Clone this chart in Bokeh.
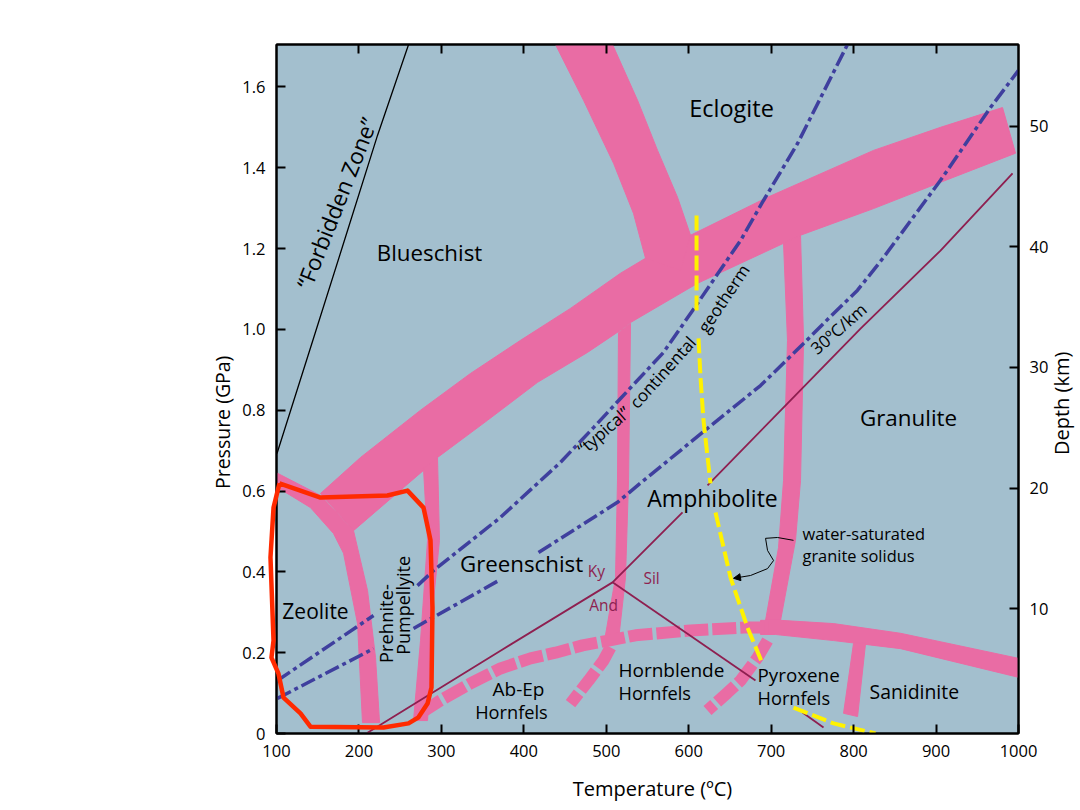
from bokeh.core.properties import value
from bokeh.embed import file_html
from bokeh.models import Arrow, FixedTicker, Label, LinearAxis, NormalHead, Range1d
from bokeh.plotting import figure
from bokeh.resources import INLINE

temp_ticks = [100, 200, 300, 400, 500, 600, 700, 800, 900, 1000]
pressure_ticks = [0, 0.2, 0.4, 0.6, 0.8, 1.0, 1.2, 1.4, 1.6]
depth_ticks = [10, 20, 30, 40, 50]

# facies boundaries, temperature (C) and pressure (GPa)
main_t = [153.4, 201.9, 274.7, 335.3, 396, 456.6, 517.3, 547.6, 602.2, 695.6, 824.2, 905.4, 980.6, 996.4,
          905.4, 824.2, 735.6, 715, 610.7, 529.4, 517.3, 477.2, 416.6, 355.9, 295.3, 278.3, 193.4]
main_p = [0.594, 0.683, 0.800, 0.891, 0.973, 1.052, 1.139, 1.176, 1.233, 1.327, 1.443, 1.500, 1.549, 1.436,
          1.364, 1.299, 1.233, 1.213, 1.114, 1.017, 0.998, 0.943, 0.869, 0.775, 0.683, 0.651, 0.502]

eclogite_t = [438.4, 472.4, 508.8, 533, 547.6, 590, 602.2, 586.4, 562.2, 537.9, 507.6]
eclogite_p = [1.705, 1.567, 1.411, 1.287, 1.176, 1.146, 1.233, 1.327, 1.443, 1.567, 1.705]

zeolite_t = [101.2, 153.4, 193.4, 210.4, 220.1, 225, 204.3, 198.3, 181.3, 169.1, 141.2, 101.2]
zeolite_p = [0.644, 0.589, 0.502, 0.354, 0.188, 0.027, 0.027, 0.272, 0.446, 0.495, 0.559, 0.609]

prehnite_t = [278.3, 295.3, 297.7, 290.4, 283.2, 266.2, 274.7, 283.2]
prehnite_p = [0.656, 0.683, 0.478, 0.329, 0.032, 0.032, 0.230, 0.478]

amphibolite_t = [514.8, 529.4, 527, 523.3, 514.8, 499, 511.2, 513.6]
amphibolite_p = [0.992, 1.015, 0.625, 0.386, 0.230, 0.243, 0.386, 0.625]

granulite_t = [715, 735.6, 739.3, 735.6, 729.5, 711.4, 693.2, 708.9, 715, 719.8]
granulite_p = [1.213, 1.233, 0.973, 0.626, 0.478, 0.280, 0.280, 0.460, 0.626, 0.973]

hightemp_t = [687.1, 711.4, 775.7, 856.9, 1000, 1000, 856.9, 775.7, 705.3, 687.1]
hightemp_p = [0.280, 0.280, 0.272, 0.248, 0.186, 0.139, 0.210, 0.230, 0.245, 0.245]

sanidinite_t = [799.9, 814.5, 804.8, 787.8]
sanidinite_p = [0.223, 0.223, 0.042, 0.050]

# dashed hornfels boundaries
abep_t = [274.7, 298.9, 335.3, 371.7, 408.1, 438.4, 471.2, 502.7, 535.5, 602.2, 666.5, 699.2]
abep_p = [0.050, 0.082, 0.124, 0.161, 0.186, 0.200, 0.218, 0.230, 0.243, 0.255, 0.262, 0.262]
horn_left_t = [505.1, 496.7, 478.5, 456.6]
horn_left_p = [0.213, 0.181, 0.131, 0.074]
horn_right_t = [695.6, 683.5, 662.8, 647, 622.8]
horn_right_p = [0.230, 0.188, 0.131, 0.101, 0.057]

# geotherms, broken where the labels sit on them
geotherm_t = [[101.2, 217.7], [271, 290.4, 371.7, 444.5, 484.5, 517.3, 569.4, 605.8, 662.8, 690.7, 732, 792.6]]
geotherm_p = [[0.131, 0.292], [0.366, 0.403, 0.535, 0.671, 0.757, 0.829, 0.943, 1.050, 1.220, 1.319, 1.460, 1.705]]
km30_t = [[101.2, 217.7], [266.2, 371.7],
          [417.8, 513.6, 545.2, 622.8, 687.1, 739.3, 772, 804.8, 836.3, 905.4, 966, 1000]]
km30_p = [[0.087, 0.210], [0.260, 0.381],
          [0.448, 0.572, 0.626, 0.755, 0.861, 0.965, 1.032, 1.097, 1.178, 1.369, 1.549, 1.641]]

# aluminosilicate triple point lines
kyanite_t = [[210.4, 371.7, 507.6, 592.5], [622.8, 719.9, 808.4, 905.4, 992.8]]
kyanite_p = [[0.002, 0.205, 0.374, 0.547], [0.614, 0.817, 1.002, 1.195, 1.386]]
sil_t = [[507.6, 681], [738, 763.5]]
sil_p = [[0.374, 0.131], [0.052, 0.015]]

solidus_t = [[609.5, 609.5], [611.9, 614.3, 617.9, 626.4], [632.5, 650.7, 671.3, 689.5], [727.1, 775.7, 826.6]]
solidus_p = [[1.282, 1.040], [0.978, 0.881, 0.775, 0.619], [0.547, 0.386, 0.262, 0.173], [0.064, 0.025, 0.0]]

forbidden_t = [100.6, 144.9, 181.3, 222.5, 260.2]
forbidden_p = [0.693, 0.978, 1.213, 1.480, 1.705]

pointer_t = [727.1, 707.7, 693.2, 695.6, 702.9, 695.6, 675]
pointer_p = [0.478, 0.485, 0.483, 0.453, 0.428, 0.408, 0.391]
pointer_end = (654.3, 0.384)

# hand drawn red outline around the low grade facies
outline_t = [103.6, 153.4, 234.6, 258.9, 278.3, 286.8, 289.2, 288, 283.2, 272.2, 260.1, 229.8,
             141.2, 129.1, 108.5, 102.4, 93.9, 96.4, 92.7, 96.4, 103.6]
outline_p = [0.619, 0.584, 0.589, 0.601, 0.559, 0.478, 0.312, 0.114, 0.074, 0.040, 0.025, 0.015,
             0.017, 0.050, 0.089, 0.148, 0.188, 0.230, 0.436, 0.559, 0.619]

BG = "#A3BFCE"
PINK = "#E96CA4"
BLUE = "#3F3F9E"
WINE = "#8E1F50"
YELLOW = "#FFF200"
RED = "#FF2A00"
FONT = "Open Sans"

p = figure(frame_width=742, frame_height=689, x_range=Range1d(100, 1000), y_range=Range1d(0, 1.705),
           output_backend="svg", toolbar_location=None, min_border_left=276, min_border_right=58,
           min_border_top=44, min_border_bottom=69, background_fill_color=BG,
           x_axis_location="below", y_axis_location="left")
p.grid.visible = False
p.outline_line_color = "black"
p.outline_line_width = 2
p.extra_y_ranges = {"depth": Range1d(-0.37, 56.8)}


def style_axis(ax, ticks, labels):
    ax.ticker = FixedTicker(ticks=ticks)
    ax.major_label_overrides = labels
    ax.major_tick_in = 9
    ax.major_tick_out = 0
    ax.minor_tick_line_color = None
    ax.major_tick_line_color = "black"
    ax.major_tick_line_width = 2
    ax.axis_line_color = "black"
    ax.axis_line_width = 2
    ax.major_label_standoff = 11
    ax.major_label_text_font = FONT
    ax.major_label_text_font_size = "16.5px"
    ax.major_label_text_color = "black"


style_axis(p.xaxis[0], temp_ticks, {t: str(t) for t in temp_ticks})
style_axis(p.yaxis[0], pressure_ticks, {0: "0", **{v: f"{v:.1f}" for v in pressure_ticks[1:]}})

top_axis = LinearAxis()
style_axis(top_axis, temp_ticks[1:-1], {t: "" for t in temp_ticks})
p.add_layout(top_axis, "above")
depth_axis = LinearAxis(y_range_name="depth")
style_axis(depth_axis, depth_ticks, {d: str(d) for d in depth_ticks})
p.add_layout(depth_axis, "right")

for xs, ys in [(main_t, main_p), (eclogite_t, eclogite_p), (zeolite_t, zeolite_p),
               (prehnite_t, prehnite_p), (amphibolite_t, amphibolite_p),
               (granulite_t, granulite_p), (hightemp_t, hightemp_p), (sanidinite_t, sanidinite_p)]:
    p.patch(xs, ys, fill_color=PINK, line_color=PINK, line_width=1)

for xs, ys in [(abep_t, abep_p), (horn_left_t, horn_left_p), (horn_right_t, horn_right_p)]:
    p.line(xs, ys, line_color=PINK, line_width=12, line_dash=[24, 4])

p.line(forbidden_t, forbidden_p, line_color="black", line_width=1.3)
for xs, ys in zip(kyanite_t + sil_t, kyanite_p + sil_p):
    p.line(xs, ys, line_color=WINE, line_width=1.8)
for xs, ys in zip(geotherm_t + km30_t, geotherm_p + km30_p):
    p.line(xs, ys, line_color=BLUE, line_width=3.5, line_dash=[15, 4, 4, 4])
for xs, ys in zip(solidus_t, solidus_p):
    p.line(xs, ys, line_color=YELLOW, line_width=4, line_dash=[15, 5])

p.line(pointer_t, pointer_p, line_color="black", line_width=1)
p.add_layout(Arrow(end=NormalHead(size=7, fill_color="black", line_color="black"),
                   x_start=pointer_t[-1], y_start=pointer_p[-1],
                   x_end=pointer_end[0], y_end=pointer_end[1], line_color="black", line_width=1))

p.line(outline_t, outline_p, line_color=RED, line_width=4.5, line_join="round", level="overlay")


def add_text(x, y, text, size=22, angle=0, align="center", color="black"):
    p.add_layout(Label(x=x, y=y, text=text, text_font=FONT, text_font_size=f"{size}px",
                       text_color=color, text_align=align, text_baseline="middle",
                       angle=angle, angle_units="deg"))


def axis_title(x, y, text, size, angle=0):
    # outside the frame, so a glyph on the overlay level rather than a Label
    p.text([x], [y], [text], text_font=value(FONT), text_font_size=f"{size}px", text_color="black",
           text_align="center", text_baseline="middle", angle=angle, angle_units="deg",
           level="overlay")


add_text(651.9, 1.549, "Eclogite", 23.5)
add_text(285.6, 1.191, "Blueschist", 22.3)
add_text(866.6, 0.781, "Granulite", 22.4)
add_text(628.9, 0.583, "Amphibolite", 23)
add_text(397.2, 0.421, "Greenschist", 22.3)
add_text(147.3, 0.302, "Zeolite", 21)
add_text(232.2, 0.272, "Prehnite-", 18.4, 90)
add_text(254, 0.317, "Pumpellyite", 18, 90)
add_text(514.8, 0.156, "Hornblende", 19, align="left")
add_text(514.8, 0.099, "Hornfels", 18.2, align="left")
add_text(683.5, 0.144, "Pyroxene", 18.8, align="left")
add_text(683.5, 0.087, "Hornfels", 18.2, align="left")
add_text(819.3, 0.104, "Sanidinite", 19.4, align="left")
add_text(393.5, 0.109, "Ab-Ep", 19)
add_text(385, 0.052, "Hornfels", 18.2)
add_text(488, 0.403, "Ky", 15.5, color=WINE)
add_text(554.9, 0.384, "Sil", 15.5, color=WINE)
add_text(496.7, 0.317, "And", 15.5, color=WINE)
add_text(738, 0.495, "water-saturated", 16.4, align="left")
add_text(738, 0.441, "granite solidus", 16.4, align="left")
add_text(496.7, 0.750, "\u201ctypical\u201d", 17, 41)
add_text(568.2, 0.894, "continental", 17, 48)
add_text(642.2, 1.077, "geotherm", 17, 56)
add_text(781.7, 1.002, "30\u00baC/km", 17, 41)
add_text(172.8, 1.312, "\u201cForbidden Zone\u201d", 22.4, 68.5)
axis_title(34.5, 0.770, "Pressure (GPa)", 19.5, 90)
axis_title(1052, 0.817, "Depth (km)", 20, 90)
axis_title(556, -0.136, "Temperature (\u00baC)", 20)

open("out.html", "w").write(file_html(p, INLINE))
